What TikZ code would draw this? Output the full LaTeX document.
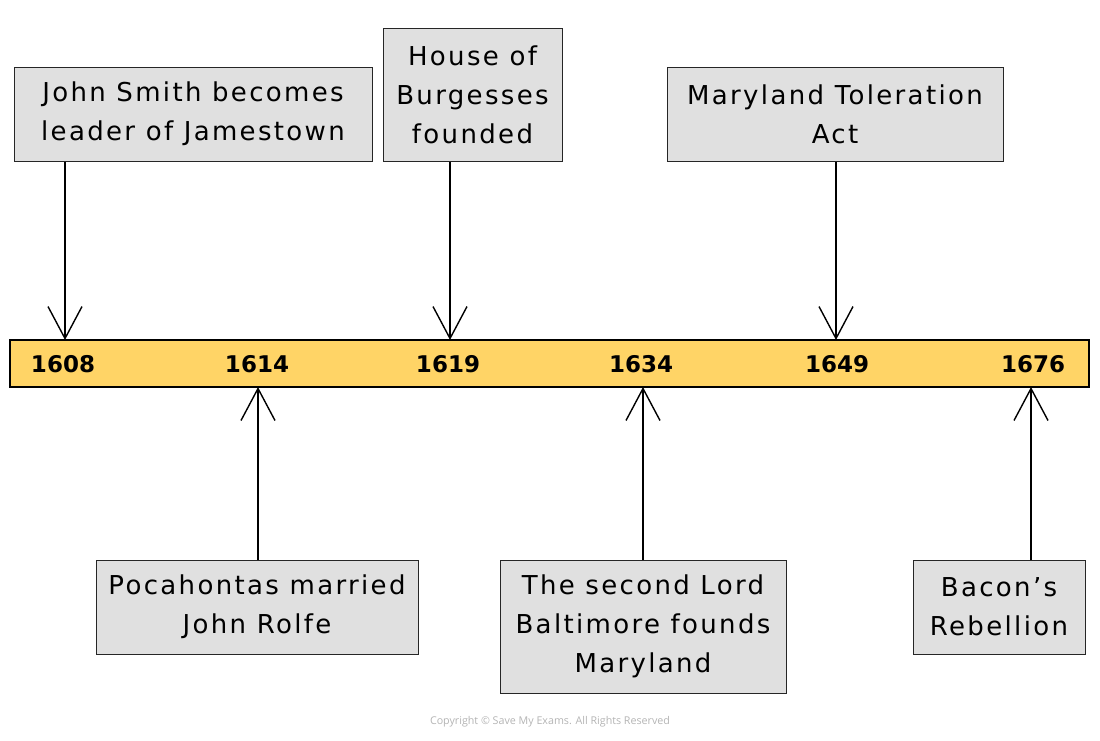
\documentclass[tikz,border=0pt]{standalone}
\usepackage{fontspec}
\setmainfont{DejaVu Sans}
\newfontfamily\boxfont[LetterSpace=9]{DejaVu Sans}
\newfontfamily\copyfont{Open Sans}
\usetikzlibrary{arrows.meta}
\definecolor{barfill}{HTML}{FFD466}
\definecolor{boxfill}{HTML}{E0E0E0}
\definecolor{copygray}{HTML}{B4B4B4}
\tikzset{
  evbox/.style={draw=black!85, line width=1pt, fill=boxfill, rectangle, align=center, inner sep=0pt,
    font=\boxfont\fontsize{26}{39}\selectfont},
  yearlbl/.style={font=\bfseries\fontsize{23}{26}\selectfont, inner sep=0pt},
  arr/.style={line width=1.4pt, -{Straight Barb[length=32pt,width=34pt,line width=1.4pt]}},
}
\begin{document}
\begin{tikzpicture}[x=1pt,y=-1pt]
\useasboundingbox (0,0) rectangle (1100,740);
% timeline bar
\node[draw=black, line width=1.5pt, fill=barfill, minimum width=1079pt, minimum height=47pt, inner sep=0pt] (bar) at (549.5,363.5) {};
\node[yearlbl] (y1608) at (63,364) {1608};
\node[yearlbl] (y1614) at (257,364) {1614};
\node[yearlbl] (y1619) at (448,364) {1619};
\node[yearlbl] (y1634) at (641,364) {1634};
\node[yearlbl] (y1649) at (837,364) {1649};
\node[yearlbl] (y1676) at (1033,364) {1676};
% event boxes
\node[evbox, minimum width=358pt, minimum height=94pt] (b1) at (193,114) {John Smith becomes\\leader of Jamestown};
\node[evbox, minimum width=179pt, minimum height=133pt] (b2) at (472.5,94.5) {House of\\Burgesses\\founded};
\node[evbox, minimum width=336pt, minimum height=94pt] (b3) at (835,114) {Maryland Toleration\\Act};
\node[evbox, minimum width=322pt, minimum height=94pt] (b4) at (257,607) {Pocahontas married\\John Rolfe};
\node[evbox, minimum width=286pt, minimum height=133pt] (b5) at (643,626.5) {The second Lord\\Baltimore founds\\Maryland};
\node[evbox, minimum width=172pt, minimum height=94pt] (b6) at (999,607) {Bacon’s\\Rebellion};
% arrow tips on bar
\coordinate (t1) at (65,340);
\coordinate (t2) at (450,340);
\coordinate (t3) at (836,340);
\coordinate (t4) at (258,387);
\coordinate (t5) at (643,387);
\coordinate (t6) at (1031,387);
\draw[arr] (b1.south -| t1) -- (t1);
\draw[arr] (b2.south -| t2) -- (t2);
\draw[arr] (b3.south -| t3) -- (t3);
\draw[arr] (b4.north -| t4) -- (t4);
\draw[arr] (b5.north -| t5) -- (t5);
\draw[arr] (b6.north -| t6) -- (t6);
% copyright
\node[font=\copyfont\fontsize{10.7}{12}\selectfont, text=copygray] (copy) at (550,722) {Copyright © Save My Exams. All Rights Reserved};
\end{tikzpicture}
\end{document}
